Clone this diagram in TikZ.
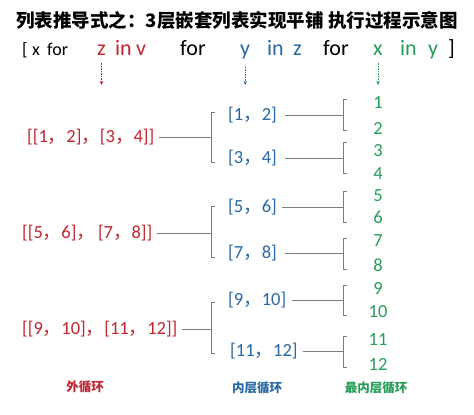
\documentclass[tikz,border=0pt]{standalone}
\usepackage{fontspec}
\setmainfont{Carlito}
\newfontfamily\cjk{Noto Sans CJK SC}
\usetikzlibrary{arrows.meta}
\definecolor{cred}{RGB}{192,38,48}
\definecolor{cblue}{RGB}{40,104,165}
\definecolor{cgreen}{RGB}{38,158,88}
\definecolor{cgrey}{RGB}{125,125,125}
\newcommand\zc{{\cjk ，}}
\begin{document}
\begin{tikzpicture}[x=1pt,y=-1pt,
  wd/.style={inner sep=0pt, anchor=base west, font=\fontsize{22}{22}\selectfont},
  wds/.style={inner sep=0pt, anchor=base west, font=\fontsize{18}{18}\selectfont},
  lst/.style={inner sep=0pt, font=\fontsize{18.5}{18.5}\selectfont},
  lbl/.style={inner sep=0pt, font=\cjk\bfseries\fontsize{12.5}{12.5}\selectfont},
  brk/.style={draw=cgrey, line width=1pt},
  darr/.style={dash pattern=on 1.5pt off 1pt, line width=0.7pt, -{Stealth[length=4pt,width=3.5pt]}}]
\useasboundingbox[fill=white] (0,0) rectangle (474,415);
% title
\node[inner sep=0pt, font=\cjk\bfseries\fontsize{18.5}{18.5}\selectfont] (title) at (237,20) {列表推导式之：3层嵌套列表实现平铺 执行过程示意图};
% expression row
\node[wds] (w1) at (22,55) {[};
\node[wds] (w2) at (32,55) {x};
\node[wds] (w3) at (47,55) {for};
\node[wd,text=cred] (wz) at (97,55) {z};
\node[wd,text=cred] (w5) at (115,55) {in};
\node[wd,text=cred] (w6) at (136,55) {v};
\node[wd] (w7) at (180,55) {for};
\node[wd,text=cblue] (wy) at (240,55) {y};
\node[wd,text=cblue] (w9) at (267,55) {in};
\node[wd,text=cblue] (w10) at (293,55) {z};
\node[wd] (w11) at (323,55) {for};
\node[wd,text=cgreen] (wx) at (373,55) {x};
\node[wd,text=cgreen] (w13) at (400,55) {in};
\node[wd,text=cgreen] (w14) at (428,55) {y};
\node[wd] (w15) at (448,55) {]};
\coordinate (aend) at (0,85);
\draw[darr,cred] ([yshift=-8pt]wz.south) -- (wz.south |- aend);
\draw[darr,cblue] ([yshift=-8pt]wy.south) -- (wy.south |- aend);
\draw[darr,cgreen] ([yshift=-8pt]wx.south) -- (wx.south |- aend);
% outer lists
\node[lst,text=cred,anchor=west] (r1) at (27,137) {[[1\zc 2]\zc [3\zc 4]]};
\node[lst,text=cred,anchor=west] (r2) at (22,233) {[[5\zc 6]\zc\,[7\zc 8]]};
\node[lst,text=cred,anchor=west] (r3) at (22,329) {[[9\zc 10]\zc [11\zc 12]]};
% red-level brackets
\coordinate (b1t) at (211,112); \coordinate (b1b) at (211,162);
\coordinate (b2t) at (211,206); \coordinate (b2b) at (211,257);
\coordinate (b3t) at (211,302); \coordinate (b3b) at (211,353);
\foreach \b in {b1,b2,b3}{
  \draw[brk] ([xshift=4pt]\b t) -- (\b t) -- (\b b) -- ([xshift=4pt]\b b);}
\draw[brk] ([xshift=5pt]r1.east) -- (r1.east -| b1t);
\draw[brk] ([xshift=4pt]r2.east) -- (r2.east -| b2t);
\draw[brk] ([xshift=4pt]r3.east) -- (r3.east -| b3t);
% inner lists
\node[lst,text=cblue,anchor=west] (m1) at (228,115) {[1\zc 2]};
\node[lst,text=cblue,anchor=west] (m2) at (228,158) {[3\zc 4]};
\node[lst,text=cblue,anchor=west] (m3) at (228,207) {[5\zc 6]};
\node[lst,text=cblue,anchor=west] (m4) at (228,253) {[7\zc 8]};
\node[lst,text=cblue,anchor=west] (m5) at (228,300) {[9\zc 10]};
\node[lst,text=cblue,anchor=west] (m6) at (230,351) {[11\zc 12]};
% blue-level brackets
\coordinate (c1t) at (343,99);  \coordinate (c1b) at (343,130);
\coordinate (c2t) at (343,142); \coordinate (c2b) at (343,173);
\coordinate (c3t) at (343,191); \coordinate (c3b) at (343,222);
\coordinate (c4t) at (343,238); \coordinate (c4b) at (343,269);
\coordinate (c5t) at (343,285); \coordinate (c5b) at (343,315);
\coordinate (c6t) at (343,336); \coordinate (c6b) at (343,367);
\foreach \b in {c1,c2,c3,c4,c5,c6}{
  \draw[brk] ([xshift=4pt]\b t) -- (\b t) -- (\b b) -- ([xshift=4pt]\b b);}
\draw[brk] ([xshift=8pt]m1.east) -- (m1.east -| c1t);
\draw[brk] ([xshift=8pt]m2.east) -- (m2.east -| c2t);
\draw[brk] ([xshift=5pt]m3.east) -- (m3.east -| c3t);
\draw[brk] ([xshift=8pt]m4.east) -- (m4.east -| c4t);
\draw[brk] ([xshift=6pt]m5.east) -- (m5.east -| c5t);
\draw[brk] ([xshift=5pt]m6.east) -- (m6.east -| c6t);
% numbers
\foreach \n/\y in {1/103,2/128,3/151,4/174,5/196,6/217,7/241,8/265,9/288,10/312,11/340,12/364}{
  \node[lst,text=cgreen] (g\n) at (378,\y) {\n};}
% bottom labels
\node[lbl,text=cred] (l1) at (85,387) {外循环};
\node[lbl,text=cblue] (l2) at (257,388) {内层循环};
\node[lbl,text=cgreen] (l3) at (376,388) {最内层循环};
\end{tikzpicture}
\end{document}
